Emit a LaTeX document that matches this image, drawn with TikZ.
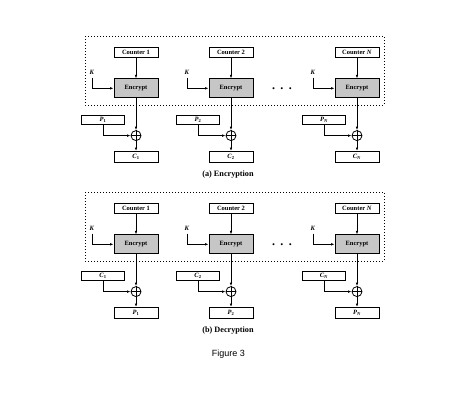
\documentclass[tikz,border=0pt]{standalone}
\usepackage{fontspec}
\setmainfont{Liberation Serif}
\newfontfamily\figfont{Liberation Sans}
\usetikzlibrary{arrows.meta, positioning}

\begin{document}
\begin{tikzpicture}[x=1pt,y=-1pt,
  every node/.style={font=\fontsize{6.5}{7}\selectfont\bfseries},
  box/.style={draw,line width=0.8pt,minimum width=44pt,minimum height=10pt,inner sep=0pt},
  encbox/.style={box,fill=gray!45,minimum height=19pt},
  xorop/.style={draw,circle,line width=0.8pt,minimum size=10pt,inner sep=0pt},
  arr/.style={-{Latex[length=3.5pt,width=2.6pt]},line width=0.8pt}]
  \useasboundingbox (0,0) rectangle (474,402);
  \foreach \p/\y/\src/\dst/\ttl in {a/0/P/C/{(a) Encryption}, b/156/C/P/{(b) Decryption}}{
    \draw[line width=1pt,dash pattern=on 1.4pt off 1.6pt] (85,36+\y) rectangle (384,105+\y);
    \node[anchor=base,font=\fontsize{12}{12}\selectfont\bfseries] (dots-\p) at (282,89+\y) {.\hspace{5.5pt}.\hspace{5.5pt}.};
    \node[font=\fontsize{8.2}{9}\selectfont\bfseries] (cap-\p) at (228,175+\y) {\ttl};
    \foreach \i/\x/\s in {1/136/1, 2/231/2, 3/357/\textit{N}}{
      \node[box] (ctr-\p\i) at (\x,52+\y) {Counter \s};
      \node[encbox,below=21pt of ctr-\p\i] (enc-\p\i) {Encrypt};
      \node[xorop,below=32pt of enc-\p\i] (xor-\p\i) {};
      \draw[line width=0.8pt] (xor-\p\i.north) -- (xor-\p\i.south) (xor-\p\i.west) -- (xor-\p\i.east);
      \node[box,minimum height=11pt,below=10pt of xor-\p\i] (out-\p\i) {\textit{\dst}\textsubscript{\s}};
      \node[box,minimum width=43pt,minimum height=9pt] (in-\p\i) at (\x-33,119.5+\y) {\textit{\src}\textsubscript{\s}};
      \node (k-\p\i) at (\x-44,72+\y) {\textit{K}};
      \draw[arr] (ctr-\p\i) -- (enc-\p\i);
      \draw[arr] (k-\p\i.south) |- (enc-\p\i.west);
      \draw[arr] (enc-\p\i) -- (xor-\p\i);
      \draw[arr] (in-\p\i) |- (xor-\p\i);
      \draw[arr] (xor-\p\i) -- (out-\p\i);
    }
  }
  \node[font=\fontsize{9}{10}\selectfont\figfont] (fig) at (228.5,354) {Figure 3};
\end{tikzpicture}
\end{document}
